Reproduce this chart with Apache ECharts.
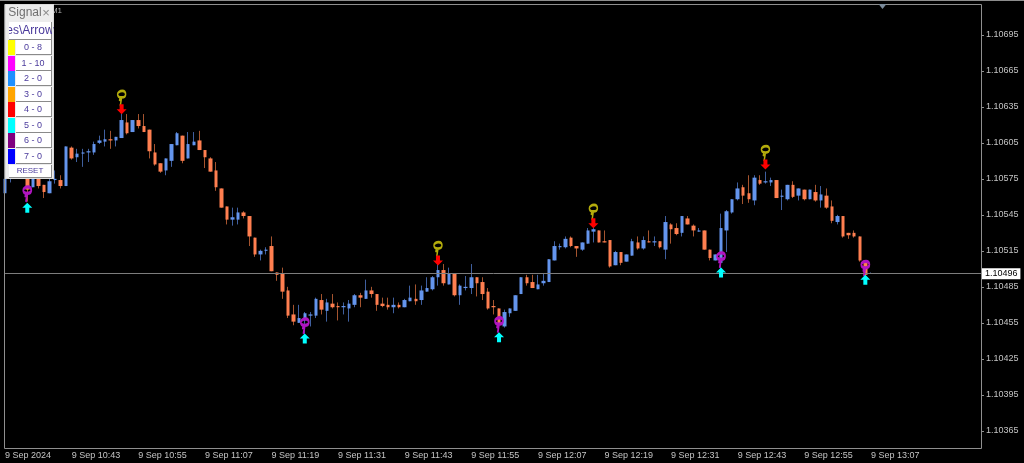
<!DOCTYPE html>
<html lang="en">
<head>
    <meta charset="UTF-8">
    <title>EURUSD M1 Signal</title>
    <style>
        html, body { margin: 0; padding: 0; background: #000; }
        #main { width: 1024px; height: 463px; }
    </style>
</head>
<body>
    <div id="main"></div>
    <script src="https://cdn.jsdelivr.net/npm/echarts@6/dist/echarts.min.js"></script>
    <script>
    // all prices are in fifth-decimal points above 1.10000 (563 means 1.10563)
    var base = 1.1;
    var opens = [
        563,575,585,580,580,568,578,570,563,574, 574,569,601,593,596,597,597,605,606,608,
        607,609,622,614,624,619,616,597,588,582, 590,603,611,592,603,607,599,592,582,567,
        552,541,541,547,544,526,512,515,519,497, 496,482,462,455,457,461,461,474,465,471,
        469,468,467,470,478,475,482,479,471,470, 468,470,468,473,475,474,481,483,493,499,
        487,496,478,484,484,493,489,481,469,467, 452,463,465,479,493,489,483,488,489,507,
        518,518,526,519,516,521,531,532,523,524, 503,514,506,511,522,517,523,522,523,516,
        537,534,530,542,536,531,532,516,507,505, 532,547,558,568,563,557,574,572,572,574,
        560,558,570,561,566,558,564,557,561,552, 539,544,530,530,527,507,496
    ];
    var closes = [
        575,585,580,586,566,580,569,564,573,575, 569,602,592,596,597,598,604,607,608,607,
        610,624,613,624,619,614,598,587,581,592, 604,613,590,604,606,599,593,581,568,551,
        541,543,547,544,527,512,515,516,498,495, 481,461,456,459,463,462,475,466,472,468,
        468,469,471,478,476,482,479,470,469,468, 470,468,474,476,473,482,484,493,499,488,
        496,478,486,485,493,488,479,467,468,453, 464,467,478,493,488,484,487,490,508,519,
        519,525,519,517,522,532,533,522,522,502, 514,505,512,523,517,524,522,523,518,539,
        533,529,544,537,532,532,516,509,512,534, 548,558,567,561,558,576,571,573,574,559,
        561,570,560,567,558,566,557,562,551,540, 544,527,528,527,507,495,496
    ];
    var lows = [
        563,572,578,578,556,568,567,559,563,571, 567,569,591,589,585,589,595,604,602,600,
        602,609,612,614,617,614,592,586,580,578, 585,603,588,592,603,599,584,581,565,551,
        537,536,537,542,519,510,507,512,498,490, 475,459,453,455,446,452,459,462,456,467,
        457,462,456,468,468,475,476,465,468,466, 463,467,468,473,470,470,481,482,486,486,
        487,477,470,482,479,477,474,466,462,448, 451,460,465,479,486,484,483,486,489,507,
        516,517,518,510,515,521,522,522,522,501, 503,503,506,511,516,516,522,519,517,508,
        521,528,527,537,527,531,516,507,507,500, 514,546,557,554,555,553,570,571,569,559,
        549,557,559,557,557,558,556,551,550,538, 537,526,525,526,506,490,496
    ];
    var highs = [
        575,588,590,590,585,582,582,570,582,582, 578,602,602,600,600,600,606,611,616,615,
        610,631,629,624,629,629,616,604,588,592, 604,614,611,614,614,615,599,593,589,567,
        552,551,551,548,544,526,516,518,527,497, 501,485,470,470,464,464,476,479,475,479,
        472,472,474,479,480,491,485,479,476,476, 476,472,475,486,487,486,493,494,504,504,
        501,496,487,494,504,493,493,484,474,467, 466,467,478,493,495,495,495,496,508,523,
        521,527,527,519,522,534,534,532,532,524, 515,514,512,525,527,527,532,527,523,544,
        538,538,544,544,537,534,532,516,512,546, 549,558,572,570,578,578,578,581,576,574,
        566,570,573,567,566,566,570,569,567,557, 545,544,530,532,527,507,497
    ];
    // signal markers: [bar index, price point]
    var upArrows = [[4,551],[54,442],[89,443],[129,497],[155,491]];
    var upKeys = [[4,562],[54,452],[89,453],[129,507],[155,500]];
    var downArrows = [[21,633],[78,507],[106,538],[137,587]];
    var downKeys = [[21,642],[78,516],[106,547],[137,596]];
    var lastPrice = 1.10496;
    var yTicks = [1.10365,1.10395,1.10425,1.10455,1.10485,1.10515,1.10545,1.10575,1.10605,1.10635,1.10665,1.10695];

    var barCount = 177; // the chart has empty room right of the last bar
    var lastTickBar = 156;
    var times = [];
    for (var i = 0; i < barCount; i++) {
        var mins = 10 * 60 + 31 + i;
        var mm = mins % 60;
        times.push('9 Sep ' + Math.floor(mins / 60) + ':' + (mm < 10 ? '0' + mm : mm));
    }
    times[0] = '9 Sep 2024';

    function px(p) { return base + p / 1e5; }
    // thin dark wicks sit behind, the solid bodies are a second candlestick layer on top
    var wicks = opens.map(function (o, i) {
        return [px(o), px(closes[i]), px(lows[i]), px(highs[i])];
    });
    var bodies = opens.map(function (o, i) {
        var c = closes[i];
        return [px(o), px(c), px(Math.min(o, c)), px(Math.max(o, c))];
    });
    function toPrices(list) {
        return list.map(function (m) { return [m[0], px(m[1])]; });
    }
    function showTick(index) {
        return index % 12 === 0 && index <= lastTickBar;
    }

    var font = '"Liberation Sans", sans-serif';
    var arrowUp = 'path://M5,0 L10,5 L7,5 L7,10 L3,10 L3,5 L0,5 Z';
    var arrowDown = 'path://M3,0 L7,0 L7,5 L10,5 L5,10 L0,5 L3,5 Z';
    var keyPath = 'path://M5.5,0 C7.5,0 8,1.5 8,3 C8,5 6.5,6 5,6 C3,6 2,5 2,3 C2,1.5 3.5,0 5.5,0 Z M5,6 L4,14 M3,8 L5,9';

    // the EA panel top left
    var swatches = ['#ffff00','#ff00ff','#1e90ff','#ffa500','#ff0000','#00ffff','#800080','#0000ff'];
    var rowTexts = ['0 - 8','1 - 10','2 - 0','3 - 0','4 - 0','5 - 0','6 - 0','7 - 0'];
    var rowY = [40,56,71,87,102,118,133,149];
    var panelBg = '#dcdcdc', panelInk = '#4a3a9c';

    function rect(x, y, w, h, fill) {
        return { type: 'rect', silent: true, z: 300, shape: { x: x, y: y, width: w, height: h }, style: { fill: fill } };
    }
    function label(x, y, text, size, fill, align) {
        return { type: 'text', silent: true, z: 300, x: x, y: y,
            style: { text: text, fill: fill, font: size + 'px ' + font, textAlign: align || 'center', textVerticalAlign: 'middle' } };
    }
    var frameEls = [
        rect(0, 0, 1024, 1, '#8c8c8c'),
        { type: 'rect', silent: true, z: 50, shape: { x: 4.5, y: 4.5, width: 977, height: 444 }, style: { fill: 'none', stroke: '#8f8f8f', lineWidth: 1 } },
        { type: 'polygon', silent: true, z: 60, shape: { points: [[878.5,4],[886.5,4],[882.5,9]] }, style: { fill: '#7a8a9a' } },
        { type: 'text', silent: true, z: 60, x: 62, y: 11, style: { text: 'M1', fill: '#b0b0b0', font: '8px ' + font, textAlign: 'right', textVerticalAlign: 'middle' } }
    ];
    var panelEls = [
        rect(5, 4, 49, 175, panelBg),
        rect(6, 5, 47, 173, '#ececec'),
        label(25, 13, 'Signal', 12, '#707070'),
        label(46, 13, '×', 13, '#8a8a8a'),
        rect(9, 22, 43, 18, '#8a8a8a'),
        rect(9, 22, 42, 17, '#ffffff'),
        label(30, 31, 'es\\Arrow', 12, panelInk),
        rect(6, 22, 3, 18, '#ececec'),
        rect(52, 22, 1, 18, '#ececec'),
        rect(9, 165, 43, 13, '#8a8a8a'),
        rect(9, 165, 42, 12, '#ffffff'),
        label(30, 171, 'RESET', 8, panelInk)
    ];
    rowTexts.forEach(function (t, i) {
        panelEls.push(rect(8, rowY[i], 7, 15, swatches[i]));
        panelEls.push(rect(16, rowY[i], 36, 15, '#8a8a8a'));
        panelEls.push(rect(16, rowY[i], 35, 14, '#ffffff'));
        panelEls.push(label(33, rowY[i] + 7.5, t, 9, panelInk));
    });

    var chart = echarts.init(document.getElementById('main'), null, { renderer: 'canvas' });
    var option = {
        animation: false,
        backgroundColor: '#000',
        grid: { left: 2.3, right: 39.35, top: 4, bottom: 15, show: false },
        xAxis: {
            type: 'category',
            data: times,
            boundaryGap: true,
            axisLine: { show: false },
            axisTick: { alignWithLabel: true, interval: showTick, length: 3, lineStyle: { color: '#8f8f8f' } },
            axisLabel: { interval: showTick, align: 'left', margin: 3, color: '#c4c4c4', fontSize: 9, fontFamily: font, hideOverlap: false },
            splitLine: { show: false }
        },
        yAxis: {
            type: 'value',
            position: 'right',
            offset: -3.65,
            min: 1.103507,
            max: 1.107207,
            scale: true,
            axisLine: { show: false },
            axisTick: { show: true, length: 3, customValues: yTicks, lineStyle: { color: '#8f8f8f' } },
            axisLabel: { customValues: yTicks, margin: 5, color: '#c4c4c4', fontSize: 9, fontFamily: font,
                formatter: function (v) { return v.toFixed(5); } },
            splitLine: { show: false }
        },
        graphic: { elements: frameEls.concat(panelEls) },
        series: [
            {
                type: 'candlestick',
                data: wicks,
                barWidth: 1,
                itemStyle: {
                    color: '#3f5f9e',
                    color0: '#a5542f',
                    borderColor: '#3f5f9e',
                    borderColor0: '#a5542f',
                    borderColorDoji: '#3f5f9e',
                    borderWidth: 1
                },
                markLine: {
                    silent: true,
                    symbol: 'none',
                    animation: false,
                    lineStyle: { color: '#7d7d7d', type: 'solid', width: 1 },
                    label: {
                        show: true,
                        position: 'end',
                        distance: 0,
                        formatter: lastPrice.toFixed(5),
                        color: '#000',
                        backgroundColor: '#fff',
                        padding: [1, 3, 1, 3],
                        fontSize: 9,
                        fontFamily: font
                    },
                    data: [[{ coord: [0, lastPrice] }, { coord: [barCount - 1, lastPrice] }]]
                }
            },
            {
                type: 'candlestick',
                data: bodies,
                barWidth: 4,
                z: 3,
                itemStyle: {
                    color: '#6495ed',
                    color0: '#ff7f50',
                    borderColor: '#6495ed',
                    borderColor0: '#ff7f50',
                    borderColorDoji: '#6495ed',
                    borderWidth: 0
                }
            },
            {
                type: 'scatter', data: toPrices(downKeys), symbol: keyPath, symbolSize: [8, 15], z: 5,
                itemStyle: { color: 'none', borderColor: '#b4ac0c', borderWidth: 2, opacity: 1 }
            },
            {
                type: 'scatter', data: toPrices(upKeys), symbol: keyPath, symbolSize: [8, 15], z: 5,
                itemStyle: { color: 'none', borderColor: '#b014c0', borderWidth: 2.4, opacity: 1 }
            },
            {
                type: 'scatter', data: toPrices(downArrows), symbol: arrowDown, symbolSize: [10, 10], z: 6,
                itemStyle: { color: '#ff0000', opacity: 1 }
            },
            {
                type: 'scatter', data: toPrices(upArrows), symbol: arrowUp, symbolSize: [10, 10], z: 6,
                itemStyle: { color: '#00ffff', opacity: 1 }
            }
        ]
    };
    chart.setOption(option);
    window.addEventListener('resize', chart.resize);
    </script>
</body>
</html>
